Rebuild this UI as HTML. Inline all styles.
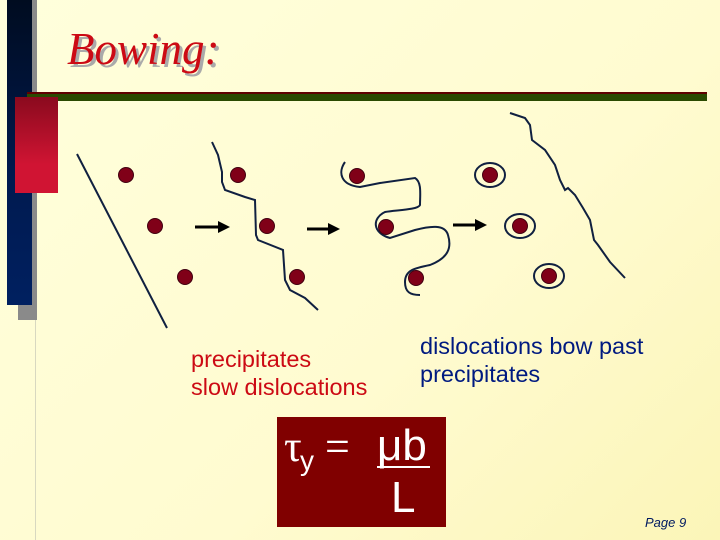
<!DOCTYPE html>
<html><head><style>
body{margin:0;width:720px;height:540px;overflow:hidden;background:linear-gradient(135deg,#ffffdc 0%,#fffbd0 60%,#fbf5b8 100%);font-family:"Liberation Sans",sans-serif;position:relative}
div{position:absolute;white-space:nowrap}
</style></head><body>
<div style="left:18px;top:0;width:19px;height:320px;background:#8a8a8a"></div>
<div style="left:7px;top:0;width:25px;height:305px;background:linear-gradient(#000c20,#001a50 60%,#002060)"></div>
<div style="left:35px;top:320px;width:1px;height:220px;background:#d8d8c0"></div>
<div style="left:27px;top:92px;width:680px;height:3px;background:#600000"></div>
<div style="left:27px;top:94px;width:680px;height:7px;background:#2a4a00"></div>
<div style="left:15px;top:97px;width:43px;height:96px;background:linear-gradient(#8a0a1e,#d01433 70%)"></div>
<div style="left:70px;top:26px;font-family:'Liberation Serif',serif;font-style:italic;font-size:45px;color:#aaa">Bowing:</div>
<div style="left:67px;top:23px;font-family:'Liberation Serif',serif;font-style:italic;font-size:45px;color:#cc0a14">Bowing:</div>
<svg width="720" height="540" style="position:absolute;left:0;top:0">
<g stroke="#102040" stroke-width="2" fill="none">
<line x1="77" y1="154" x2="167" y2="328"/>
<polyline points="212,142 218,155 222,172 222,182 225,190 245,197 255,200 256,235 258,240 283,250 285,280 290,290 305,298 318,310"/>
<path d="M345,162 C338,172 340,185 360,187 L380,183 L415,178 C422,182 420,195 420,205 C418,210 395,210 385,212 C372,218 372,233 390,238 L415,230 C430,226 445,224 448,235 C452,248 448,258 430,265 C415,268 405,270 405,282 C405,292 410,295 420,295"/>
<polyline points="510,113 525,118 530,125 532,140 545,150 555,165 560,180 565,190 568,188 575,195 583,208 590,220 594,240 598,245 610,262 625,278"/>
<ellipse cx="490" cy="175" rx="15" ry="12"/>
<ellipse cx="520" cy="226" rx="15" ry="12"/>
<ellipse cx="549" cy="276" rx="15" ry="12"/>
</g>
<g fill="#800018" stroke="#400010" stroke-width="1">
<circle cx="126" cy="175" r="7.5"/><circle cx="155" cy="226" r="7.5"/><circle cx="185" cy="277" r="7.5"/>
<circle cx="238" cy="175" r="7.5"/><circle cx="267" cy="226" r="7.5"/><circle cx="297" cy="277" r="7.5"/>
<circle cx="357" cy="176" r="7.5"/><circle cx="386" cy="227" r="7.5"/><circle cx="416" cy="278" r="7.5"/>
<circle cx="490" cy="175" r="7.5"/><circle cx="520" cy="226" r="7.5"/><circle cx="549" cy="276" r="7.5"/>
</g>
<g fill="#000" stroke="#000" stroke-width="3">
<line x1="195" y1="227" x2="220" y2="227"/><polygon points="218,221 230,227 218,233" stroke="none"/>
<line x1="307" y1="229" x2="330" y2="229"/><polygon points="328,223 340,229 328,235" stroke="none"/>
<line x1="453" y1="225" x2="477" y2="225"/><polygon points="475,219 487,225 475,231" stroke="none"/>
</g>
</svg>
<div style="left:191px;top:345px;font-size:23.5px;line-height:28px;color:#cc0a14">precipitates<br>slow dislocations</div>
<div style="left:420px;top:332px;font-size:23.5px;line-height:28px;color:#001a80">dislocations bow past<br>precipitates</div>
<div style="left:277px;top:417px;width:169px;height:110px;background:#800000;color:#fff">
<div style="left:7px;top:4px;font-family:'Liberation Serif',serif;font-size:44px">τ</div>
<div style="left:23px;top:28px;font-size:28px">y</div>
<div style="left:48px;top:4px;font-family:'Liberation Serif',serif;font-size:44px">=</div>
<div style="left:100px;top:4px;font-size:44px">μb</div>
<div style="left:100px;top:49px;width:53px;height:2px;background:#fff"></div>
<div style="left:114px;top:56px;font-size:44px">L</div>
</div>
<div style="left:645px;top:515px;font-size:13px;font-style:italic;color:#001a60">Page 9</div>
</body></html>
